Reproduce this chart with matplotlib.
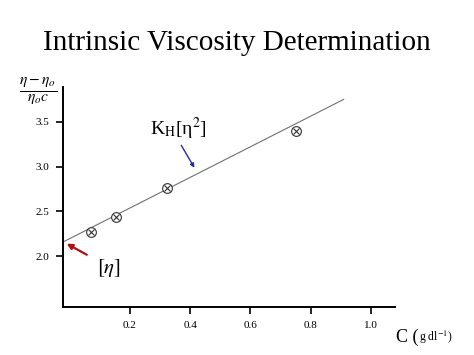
import matplotlib.pyplot as plt

# measured points (concentration, reduced viscosity)
conc = [0.07, 0.155, 0.323, 0.752]
red_visc = [2.27, 2.44, 2.76, 3.40]

# fitted line: intercept [eta], slope K_H[eta]^2
intercept = 2.195
slope = 1.71
line_x = [-0.022, 0.91]

x_ticks = [0.2, 0.4, 0.6, 0.8, 1.0]
y_ticks = [2.0, 2.5, 3.0, 3.5]

plt.rcParams["font.family"] = ["Liberation Serif", "DejaVu Serif"]
plt.rcParams["mathtext.fontset"] = "stix"

fig = plt.figure(figsize=(4.74, 3.55), dpi=100)
ax = fig.add_axes([0.133, 0.135, 0.700, 0.620])

line_y = [intercept + slope * x for x in line_x]
ax.plot(line_x, line_y, color="#707070", linewidth=0.8)

ax.plot(conc, red_visc, linestyle="none", marker="o", markersize=7,
        markerfacecolor="white", markeredgecolor="#333333", markeredgewidth=0.8)
ax.plot(conc, red_visc, linestyle="none", marker="x", markersize=4.5,
        color="#333333", markeredgewidth=0.8)

ax.set_xlim(-0.022, 1.08)
ax.set_ylim(1.43, 3.89)
ax.set_xticks(x_ticks)
ax.set_xticklabels([f"{v:.1f}" for v in x_ticks])
ax.set_yticks(y_ticks)
ax.set_yticklabels([f"{v:.1f}" for v in y_ticks])

ax.spines["right"].set_visible(False)
ax.spines["top"].set_visible(False)
for side in ["left", "bottom"]:
    ax.spines[side].set_linewidth(1.4)
ax.tick_params(direction="out", length=5, width=1.2, labelsize=8, pad=5)

# annotations
ax.annotate("", xy=(-0.018, intercept - 0.03 * slope + 0.01), xytext=(0.065, 2.0),
            arrowprops=dict(arrowstyle="-|>", color="#b01010", lw=1.6,
                            mutation_scale=8))
ax.text(0.09, 1.87, r"$[\eta]$", fontsize=15, ha="left", va="center")

ax.annotate("", xy=(0.419, 2.96), xytext=(0.366, 3.265),
            arrowprops=dict(arrowstyle="-|>", color="#2a2aa0", lw=1.0,
                            mutation_scale=6))
ax.text(0.266, 3.42, r"K$_{\mathrm{H}}$[η$^2$]", fontsize=14,
        ha="left", va="center")

fig.text(0.5, 0.88, "Intrinsic Viscosity Determination", fontsize=21,
         ha="center", va="center")
fig.text(0.08, 0.745, r"$\frac{\eta-\eta_o}{\eta_o c}$", fontsize=16,
         ha="center", va="center")
fig.text(0.835, 0.05, "C (", fontsize=13, ha="left", va="center")
fig.text(0.885, 0.05, r"g dl$^{\mathrm{-1}}$)", fontsize=8.5, ha="left", va="center")

fig.savefig("out.png", dpi=100)
